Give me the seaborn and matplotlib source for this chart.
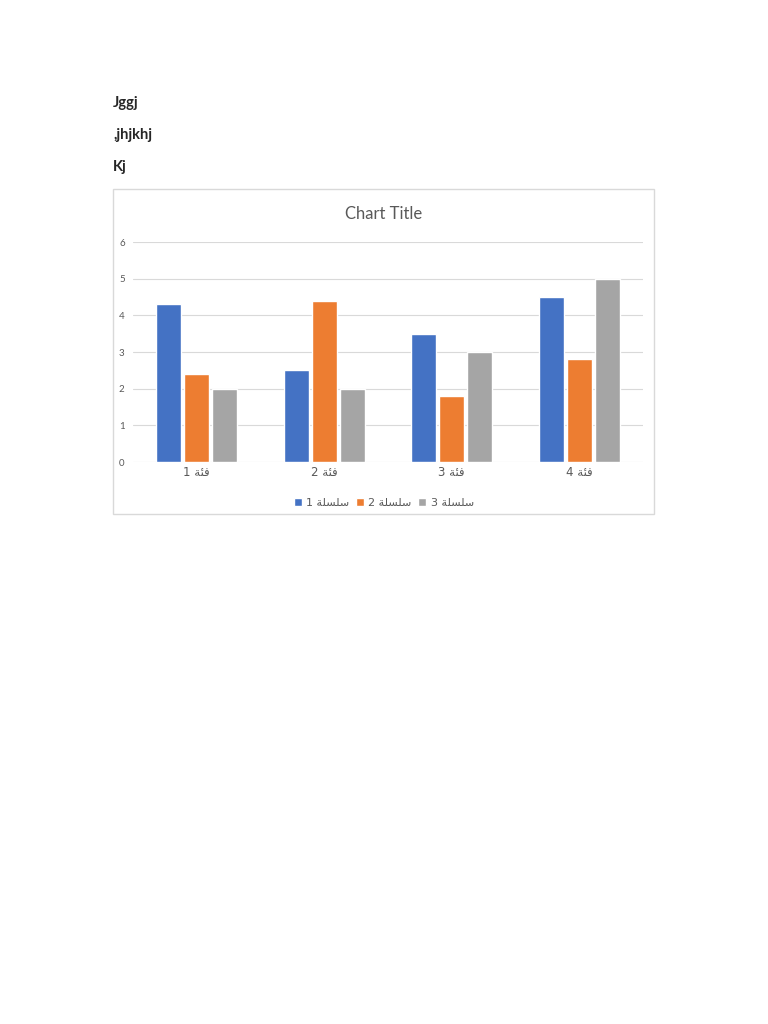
import matplotlib
matplotlib.use("Agg")
import matplotlib.pyplot as plt
from matplotlib.patches import Rectangle
import pandas as pd
import seaborn as sns

categories = ["فئة 1", "فئة 2", "فئة 3", "فئة 4"]
series_names = ["سلسلة 1", "سلسلة 2", "سلسلة 3"]
series_1 = [4.3, 2.5, 3.5, 4.5]
series_2 = [2.4, 4.4, 1.8, 2.8]
series_3 = [2.0, 2.0, 3.0, 5.0]
y_ticks = [0, 1, 2, 3, 4, 5, 6]
page_lines = ["Jggj", ",jhjkhj", "Kj"]
colors = ["#4472c4", "#ed7d31", "#a5a5a5"]

# matplotlib has no arabic shaping, so pick presentation forms by hand
# (isolated, final, initial, medial)
FORMS = {
    "ف": ("\ufed1", "\ufed2", "\ufed3", "\ufed4"),
    "ئ": ("\ufe89", "\ufe8a", "\ufe8b", "\ufe8c"),
    "س": ("\ufeb1", "\ufeb2", "\ufeb3", "\ufeb4"),
    "ل": ("\ufedd", "\ufede", "\ufedf", "\ufee0"),
    "ة": ("\ufe93", "\ufe94", None, None),
}


def shape_word(word):
    out = []
    for i, ch in enumerate(word):
        if ch not in FORMS:
            out.append(ch)
            continue
        prev_joins = i > 0 and word[i - 1] in FORMS and FORMS[word[i - 1]][2] is not None
        next_joins = i < len(word) - 1 and word[i + 1] in FORMS and FORMS[ch][2] is not None
        iso, fin, ini, med = FORMS[ch]
        if prev_joins and next_joins:
            out.append(med)
        elif prev_joins:
            out.append(fin)
        elif next_joins:
            out.append(ini)
        else:
            out.append(iso)
    return "".join(reversed(out))


def rtl(text):
    parts = [shape_word(p) if any(c in FORMS for c in p) else p for p in text.split(" ")]
    return " ".join(reversed(parts))


df = pd.DataFrame({
    "category": categories * 3,
    "series": [s for s in series_names for _ in categories],
    "value": series_1 + series_2 + series_3,
})

sns.set_theme(style="white")
plt.rcParams["font.family"] = ["Lato", "DejaVu Sans"]

fig = plt.figure(figsize=(7.68, 10.24), dpi=100)
W, H = 768, 1024

# chart frame, kept behind the axes
fig.patches.append(Rectangle((113 / W, 1 - 514 / H), 541 / W, 325 / H,
                             transform=fig.transFigure, facecolor="white",
                             edgecolor="#d9d9d9", linewidth=1, zorder=-5))

for i, line in enumerate(page_lines):
    fig.text(113 / W, 1 - (103 + 32 * i) / H, line, fontsize=10.5, fontweight="bold",
             color="#262626", va="center", ha="left")

ax = fig.add_axes([133 / W, 1 - 462 / H, 510 / W, 220 / H])
ax.set_facecolor("none")
sns.barplot(data=df, x="category", y="value", hue="series", palette=colors,
            width=0.66, gap=0.12, ax=ax, saturation=1, legend=True)

ax.set_ylim(0, 6)
ax.set_yticks(y_ticks)
ax.set_yticklabels([str(t) for t in y_ticks], fontsize=7, color="#595959")
ax.set_xticks(range(len(categories)))
ax.set_xticklabels([rtl(c) for c in categories], fontsize=8.5, color="#595959",
                   family=["DejaVu Sans"])
ax.tick_params(axis="y", length=0, pad=6)
ax.tick_params(axis="x", length=0, pad=3)
ax.grid(axis="y", color="#d9d9d9", linewidth=0.8)
ax.set_axisbelow(True)
for s in ax.spines.values():
    s.set_visible(False)
ax.set_xlabel("")
ax.set_ylabel("")
ax.set_xlim(-0.5, 3.5)

fig.text(384 / W, 1 - 214 / H, "Chart Title", fontsize=12, color="#595959",
         ha="center", va="center")

handles, labels = ax.get_legend_handles_labels()
ax.legend(handles, [rtl(l) for l in labels], loc="center",
          bbox_to_anchor=(384 / W, 1 - 503 / H), bbox_transform=fig.transFigure,
          ncol=3, frameon=False, handlelength=0.7, handleheight=0.7,
          handletextpad=0.4, columnspacing=0.6,
          prop={"family": ["DejaVu Sans"], "size": 8})
for t in ax.get_legend().get_texts():
    t.set_color("#595959")

fig.savefig("out.png", dpi=100)
